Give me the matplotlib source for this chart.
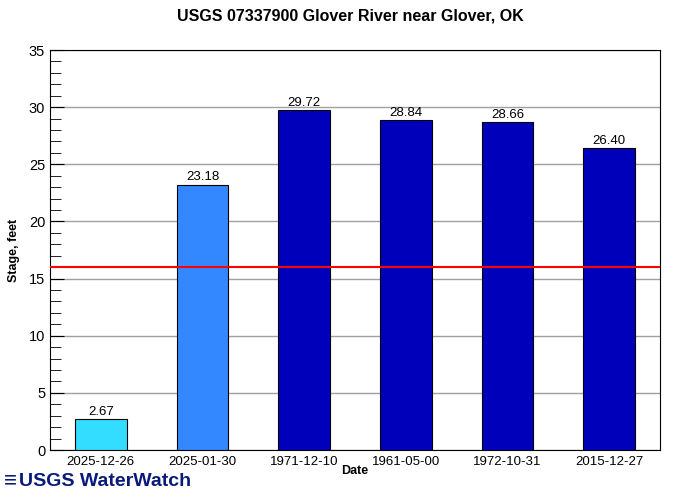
import matplotlib
matplotlib.use('Agg')
import matplotlib.pyplot as plt
from matplotlib.ticker import MultipleLocator

# 数据
dates = ['2025-12-26', '2025-01-30', '1971-12-10', '1961-05-00', '1972-10-31', '2015-12-27']
stages = [2.67, 23.18, 29.72, 28.84, 28.66, 26.40]
bar_colors = ['#33DDFF', '#3388FF', '#0000BB', '#0000BB', '#0000BB', '#0000BB']
flood_stage = 16.0

plt.rcParams['font.family'] = ['Liberation Sans', 'DejaVu Sans']

fig = plt.figure(figsize=(7, 5), dpi=100)
ax = fig.add_axes([50 / 700, 50 / 500, 610 / 700, 400 / 500])

x = list(range(len(dates)))
ax.bar(x, stages, width=0.51, color=bar_colors, edgecolor='black', linewidth=0.8, zorder=3)
for xi, v in zip(x, stages):
    ax.text(xi, v + 0.15, f'{v:.2f}', ha='center', va='bottom', fontsize=9.5, zorder=4)

ax.axhline(flood_stage, color='#FF0000', linewidth=1.5, zorder=5)

ax.set_xlim(-0.5, len(dates) - 0.5)
ax.set_ylim(0, 35)
ax.set_xticks(x)
ax.set_xticklabels(dates, fontsize=9.5)
ax.yaxis.set_major_locator(MultipleLocator(5))
ax.yaxis.set_minor_locator(MultipleLocator(1))
ax.tick_params(axis='y', which='major', direction='in', length=10, labelsize=10.5)
ax.tick_params(axis='y', which='minor', direction='in', length=8)
ax.tick_params(axis='x', length=0, pad=4)
ax.grid(axis='y', which='major', color='#A0A0A0', linewidth=1, zorder=0)

ax.set_xlabel('Date', fontsize=9, fontweight='bold', labelpad=-2)
ax.set_ylabel('Stage, feet', fontsize=9, fontweight='bold', labelpad=6)
fig.text(0.5, 1 - 16 / 500, 'USGS 07337900 Glover River near Glover, OK',
         ha='center', va='center', fontsize=11.5, fontweight='bold')

# 标志
fig.text(4 / 700, 1 - 481 / 500, '\u2261', ha='left', va='center',
         fontsize=16, fontweight='bold', color='#0A1A7A')
fig.text(19 / 700, 1 - 481 / 500, 'USGS WaterWatch', ha='left', va='center',
         fontsize=14, fontweight='bold', color='#0A1A7A')

fig.savefig('out.png', dpi=100, facecolor='white')
